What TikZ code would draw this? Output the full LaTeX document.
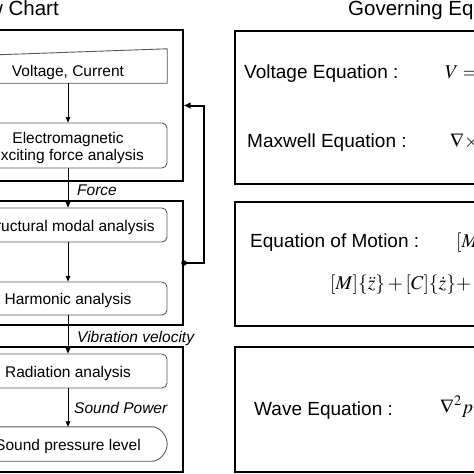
\documentclass[tikz,border=0pt]{standalone}
\usepackage{mathptmx}
\usepackage{fontspec}
\setmainfont{Liberation Sans}
\usetikzlibrary{arrows.meta}
\newcommand\fsA{\fontsize{15.5}{17.5}\selectfont}
\newcommand\fsB{\fontsize{19}{21}\selectfont}
\newcommand\fsT{\fontsize{20.5}{23}\selectfont}
\begin{document}
\begin{tikzpicture}[x=1pt,y=-1pt,
  outerbox/.style={draw=black, line width=2pt, minimum width=230pt, inner sep=0pt},
  rightbox/.style={draw=black, line width=2pt, minimum width=285pt, inner sep=0pt},
  stepbox/.style={draw=black!65, line width=0.9pt, rounded corners=5pt, minimum width=198pt,
    inner sep=0pt, align=center, font=\fsA, text height=12pt, text depth=0pt},
  plainbox/.style={minimum width=198pt, inner sep=0pt, align=center, font=\fsA,
    text height=12pt, text depth=0pt},
  shapeline/.style={draw=black!65, line width=0.9pt},
  arr/.style={draw=black, line width=0.8pt, -{Triangle[length=5.5pt,width=4.5pt]}},
  fb/.style={draw=black, line width=2pt, -{Triangle[length=6.5pt,width=5.5pt]}},
  lab/.style={font=\fsA\itshape, anchor=base west, inner sep=0pt},
  eqlab/.style={font=\fsB, anchor=base west, inner sep=0pt},
  eq/.style={font=\fontsize{19.5}{21}\selectfont, anchor=base west, inner sep=0pt},
  title/.style={font=\fsT, inner sep=0pt}
]
\useasboundingbox (0,0) rectangle (474,474);
\clip (0,0) rectangle (474,474);
\fill[white] (0,0) rectangle (474,474);

% titles
\node[title, anchor=base east] (t1) at (59,15) {Flow Chart};
\node[title, anchor=base west] (t2) at (348,15) {Governing Equations};

% left outer groups
\node[outerbox, minimum height=151pt] (g1) at (68,105.5) {};
\node[outerbox, minimum height=124pt] (g2) at (68,263) {};
\node[outerbox, minimum height=125pt] (g3) at (68,409.5) {};

% right groups
\node[rightbox, minimum height=153pt] (r1) at (377.5,107.5) {};
\node[rightbox, minimum height=124pt] (r2) at (377.5,264) {};
\node[rightbox, minimum height=125pt] (r3) at (377.5,409.5) {};

% flow steps
\node[plainbox, minimum height=26pt] (vc) at (68,70) {Voltage, Current};
\draw[shapeline] (vc.south west) -- (vc.south east) -- ([yshift=8pt]vc.north east)
  -- ([yshift=1pt]vc.north west) -- cycle;
\node[stepbox, minimum height=45pt, text height=30pt, text depth=0pt] (em) at (68,145.5)
  {Electromagnetic\\exciting force analysis};
\node[stepbox, minimum height=34pt] (sm) at (68,225) {Structural modal analysis};
\node[stepbox, minimum height=33pt] (ha) at (68,298.5) {Harmonic analysis};
\node[stepbox, minimum height=34pt] (ra) at (68,371) {Radiation analysis};
\node[plainbox, minimum height=34pt] (spl) at (68,444) {Sound pressure level};
\draw[shapeline] ([xshift=-15pt]spl.north east) -- (spl.north west) -- (spl.south west)
  -- ([xshift=-15pt]spl.south east)
  .. controls ([xshift=-7pt]spl.south east) and ([yshift=-8pt]spl.east) .. (spl.east)
  .. controls ([yshift=8pt]spl.east) and ([xshift=-7pt]spl.north east) .. ([xshift=-15pt]spl.north east);

% connectors
\draw[arr] (vc) -- (em);
\draw[arr] (em) -- (sm);
\draw[arr] (sm) -- (ha);
\draw[arr] (ha) -- (ra);
\draw[arr] (ra) -- (spl);
\draw[fb] (g2.east) -- ++(20,0) |- (g1.east);
\fill (g2.east) circle (2.8pt);

% connector labels
\node[lab] (lf) at (77,195) {Force};
\node[lab] (lv) at (77,342) {Vibration velocity};
\node[lab] (lp) at (74,413) {Sound Power};

% governing equations
\node[eqlab] (e1) at (244,78) {Voltage Equation :};
\node[eq] (m1) at (445,78) {$V=$};
\node[eqlab] (e2) at (247,147) {Maxwell Equation :};
\node[eq] (m2) at (450,147) {$\nabla\times$};
\node[eqlab] (e3) at (250,247) {Equation of Motion :};
\node[eq] (m3) at (456,247) {$[M$};
\node[eq] (m4) at (330,289) {$[M]\{\ddot{z}\}+[C]\{\dot{z}\}+$};
\node[eqlab] (e4) at (254,415) {Wave Equation :};
\node[eq] (m5) at (440,413) {$\nabla^2 p$};
\end{tikzpicture}
\end{document}
